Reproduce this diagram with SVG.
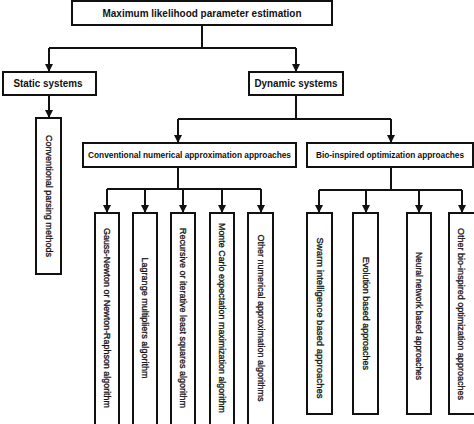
<svg xmlns="http://www.w3.org/2000/svg" width="474" height="424" viewBox="0 0 474 424">
<style>
.box{fill:#fff;stroke:#111;stroke-width:2}
.h{font-family:"Liberation Sans",Arial,sans-serif;font-weight:bold;fill:#111;text-anchor:middle;dominant-baseline:central}
.v{font-family:"Liberation Sans",Arial,sans-serif;font-size:9px;fill:#111;stroke:#111;stroke-width:0.3;text-anchor:middle;dominant-baseline:central}
.ln{fill:none;stroke:#111;stroke-width:2}
</style>
<defs>
<marker id="ad" markerUnits="userSpaceOnUse" markerWidth="8" markerHeight="8" viewBox="0 0 8 8" refX="4" refY="8" orient="0">
<path d="M0,0 L8,0 L4,8 Z" fill="#111"/>
</marker>
</defs>
<rect width="474" height="424" fill="#fff"/>
<g id="connectors">
<path class="ln" d="M202,25 V48 M49,48 H296"/>
<path class="ln" d="M49,48 V72" marker-end="url(#ad)"/>
<path class="ln" d="M296,48 V72" marker-end="url(#ad)"/>
<path class="ln" d="M49,95 V118" marker-end="url(#ad)"/>
<path class="ln" d="M296,95 V119 M178,119 H391"/>
<path class="ln" d="M178,119 V143" marker-end="url(#ad)"/>
<path class="ln" d="M391,119 V143" marker-end="url(#ad)"/>
<path class="ln" d="M178,167 V189 M107,189 H261"/>
<path class="ln" d="M107,189 V213" marker-end="url(#ad)"/>
<path class="ln" d="M145,189 V213" marker-end="url(#ad)"/>
<path class="ln" d="M183,189 V213" marker-end="url(#ad)"/>
<path class="ln" d="M222,189 V213" marker-end="url(#ad)"/>
<path class="ln" d="M261,189 V213" marker-end="url(#ad)"/>
<path class="ln" d="M391,167 V190 M319,190 H462"/>
<path class="ln" d="M319,190 V213" marker-end="url(#ad)"/>
<path class="ln" d="M366,190 V213" marker-end="url(#ad)"/>
<path class="ln" d="M419,190 V213" marker-end="url(#ad)"/>
<path class="ln" d="M462,190 V213" marker-end="url(#ad)"/>
</g>
<g id="n-top"><rect class="box" x="72" y="1" width="260" height="24"/><text class="h" x="202" y="13" font-size="10" textLength="199" lengthAdjust="spacingAndGlyphs">Maximum likelihood parameter estimation</text></g>
<g id="n-static"><rect class="box" x="3" y="72" width="93" height="23"/><text class="h" x="48" y="83.5" font-size="10" textLength="69" lengthAdjust="spacingAndGlyphs">Static systems</text></g>
<g id="n-dynamic"><rect class="box" x="249" y="72" width="94" height="23"/><text class="h" x="296" y="83.5" font-size="10" textLength="83" lengthAdjust="spacingAndGlyphs">Dynamic systems</text></g>
<g id="n-cpm"><rect class="box" x="36" y="118" width="25" height="156"/><text class="v" transform="translate(48.5,196) rotate(90)" textLength="122" lengthAdjust="spacingAndGlyphs">Conventional parsing methods</text></g>
<g id="n-cna"><rect class="box" x="83" y="143" width="213" height="24"/><text class="h" x="189.5" y="155" font-size="8.6" textLength="203" lengthAdjust="spacingAndGlyphs">Conventional numerical approximation approaches</text></g>
<g id="n-bio"><rect class="box" x="307" y="143" width="166" height="24"/><text class="h" x="390" y="155" font-size="8.6" textLength="148" lengthAdjust="spacingAndGlyphs">Bio-inspired optimization approaches</text></g>
<g id="n-gn"><rect class="box" x="95" y="213" width="24" height="215"/><text class="v" transform="translate(107,318) rotate(90)" textLength="180" lengthAdjust="spacingAndGlyphs">Gauss-Newton or Newton-Raphson algorithm</text></g>
<g id="n-lm"><rect class="box" x="133" y="213" width="24" height="215"/><text class="v" transform="translate(145,318) rotate(90)" textLength="121" lengthAdjust="spacingAndGlyphs">Lagrange multipliers algorithm</text></g>
<g id="n-rls"><rect class="box" x="171" y="213" width="24" height="215"/><text class="v" transform="translate(183,318) rotate(90)" textLength="180" lengthAdjust="spacingAndGlyphs">Recursive or iterative least squares algorithm</text></g>
<g id="n-mc"><rect class="box" x="210" y="213" width="24" height="215"/><text class="v" transform="translate(222,318) rotate(90)" textLength="190" lengthAdjust="spacingAndGlyphs">Monte Carlo expectation maximization algorithm</text></g>
<g id="n-ona"><rect class="box" x="248" y="213" width="25" height="215"/><text class="v" transform="translate(260.5,318) rotate(90)" textLength="167" lengthAdjust="spacingAndGlyphs">Other numerical approximation algorithms</text></g>
<g id="n-swarm"><rect class="box" x="307" y="213" width="25" height="201"/><text class="v" transform="translate(319.5,318) rotate(90)" textLength="161" lengthAdjust="spacingAndGlyphs">Swarm intelligence based approaches</text></g>
<g id="n-evo"><rect class="box" x="353" y="213" width="25" height="201"/><text class="v" transform="translate(365.5,313.5) rotate(90)" textLength="113" lengthAdjust="spacingAndGlyphs">Evolution based approaches</text></g>
<g id="n-nn"><rect class="box" x="407" y="213" width="24" height="201"/><text class="v" transform="translate(419,316) rotate(90)" textLength="128" lengthAdjust="spacingAndGlyphs">Neural network based approaches</text></g>
<g id="n-obio"><rect class="box" x="449" y="213" width="30" height="201"/><text class="v" transform="translate(461,314) rotate(90)" textLength="172" lengthAdjust="spacingAndGlyphs">Other bio-inspired optimization approaches</text></g>
</svg>
